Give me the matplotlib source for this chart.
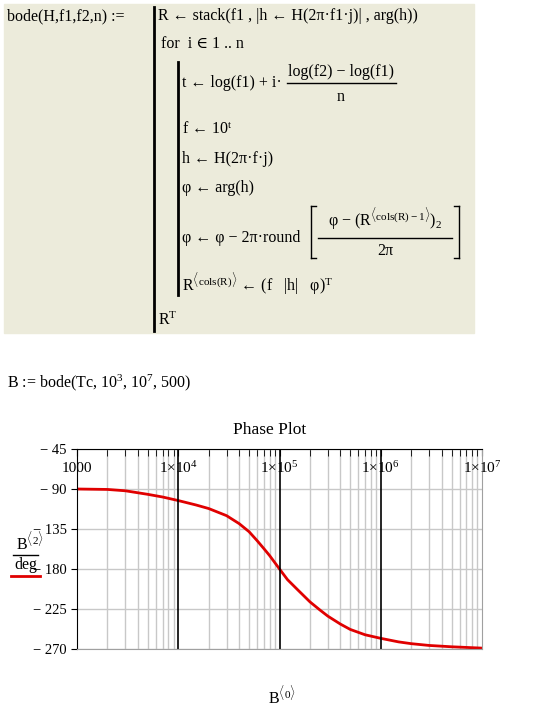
import matplotlib
matplotlib.use("Agg")
import matplotlib.pyplot as plt
import numpy as np
from matplotlib.transforms import blended_transform_factory

plt.rcParams['mathtext.fontset'] = 'custom'
plt.rcParams['mathtext.rm'] = 'Liberation Serif'
plt.rcParams['mathtext.it'] = 'Liberation Serif'
plt.rcParams['font.family'] = ['Liberation Serif', 'DejaVu Serif']

freq = [1e3, 2e3, 3e3, 5e3, 7e3, 1e4, 1.5e4, 2e4, 3e4, 4e4, 5e4, 6e4, 7e4, 8e4, 1e5, 1.2e5, 1.5e5, 2e5,
        2.5e5, 3e5, 4e5, 5e5, 7e5, 1e6, 1.5e6, 2e6, 3e6, 5e6, 1e7]
phase = [-90, -90.5, -92, -96, -99, -103, -108, -112, -120, -129, -138, -148, -157, -165, -180, -192, -203, -217,
         -226, -233, -242, -248, -254, -258, -262, -264, -266, -267.5, -269]
yticks = [-45, -90, -135, -180, -225, -270]
xticks = [1e3, 1e4, 1e5, 1e6, 1e7]
xlabels = ['1000', r'1$\times$10$^{4}$', r'1$\times$10$^{5}$', r'1$\times$10$^{6}$', r'1$\times$10$^{7}$']

W, H = 539, 713
fig = plt.figure(figsize=(W/100, H/100), dpi=100)

def T(x, y, s, size=11.5, **kw):
    fig.text(x/W, 1 - y/H, s, fontsize=size, va='center', **kw)

def L(x0, y0, x1, y1, lw=1, color='black'):
    fig.add_artist(plt.Line2D([x0/W, x1/W], [1-y0/H, 1-y1/H], lw=lw, color=color))

fig.add_artist(plt.Rectangle((4/W, 1-333/H), 470/W, 329/H, color='#ECEBDB', zorder=0))
L(154, 7, 154, 331, lw=2)
L(178, 62, 178, 295, lw=2)
T(7, 16, 'bode(H,f1,f2,n) :=')
T(158, 16, 'R ← stack(f1 , |h ← H(2π·f1·j)| , arg(h))')
T(161, 44, 'for  i ∈ 1 .. n')
T(182, 83, 't ← log(f1) + i·')
T(341, 72, 'log(f2) − log(f1)', ha='center')
L(287, 83, 396, 83)
T(341, 97, 'n', ha='center')
T(182, 130, r'f ← 10$^{\rm t}$')
T(182, 159, 'h ← H(2π·f·j)')
T(182, 188, 'φ ← arg(h)')
T(182, 238, 'φ ← φ − 2π·round')
T(385, 220, r'φ − (R$^{\langle {\rm cols(R)}-1\rangle}$)$_2$', ha='center')
L(318, 238, 452, 238)
T(385, 251, '2π', ha='center')
L(311, 206, 311, 258); L(311, 206, 316, 206); L(311, 258, 316, 258)
L(459, 206, 459, 258); L(454, 206, 459, 206); L(454, 258, 459, 258)
T(182, 285, r'R$^{\langle {\rm cols(R)}\rangle}$ ← (f   |h|   φ)$^{\rm T}$')
T(158, 320, r'R$^{\rm T}$')
T(7, 383, r'B := bode(Tc, 10$^3$, 10$^7$, 500)')

ax = fig.add_axes([77/W, 64/H, 405/W, 200/H])
ax.plot(freq, phase, color='#E00000', lw=2)
ax.set_xscale('log')
ax.set_xlim(1e3, 1e7)
ax.set_ylim(-270, -45)
ax.set_yticks(yticks)
ax.set_yticklabels(['− %d' % abs(v) for v in yticks], fontsize=10.5)
ax.set_xticks(xticks)
ax.set_xticklabels([])
ax.xaxis.set_minor_formatter(matplotlib.ticker.NullFormatter())
ax.grid(which='minor', axis='x', color='#C8C8C8', lw=1)
ax.grid(which='major', axis='y', color='#C8C8C8', lw=1)
for xv in xticks[1:-1]:
    ax.axvline(xv, color='black', lw=1.2)
ax.tick_params(axis='x', which='both', top=True, bottom=False, direction='in', length=5)
ax.tick_params(axis='y', direction='out', length=4)
for s in ax.spines.values():
    s.set_color('#A0A0A0')
ax.spines['left'].set_color('black')
ax.spines['top'].set_color('black')
tr = blended_transform_factory(ax.transData, ax.transAxes)
for xv, lab in zip(xticks, xlabels):
    ax.text(xv, 0.905, lab, transform=tr, ha='center', va='center', fontsize=11)
T(270, 430, 'Phase Plot', size=12.5, ha='center')
T(30, 543, r'B$^{\langle 2\rangle}$', ha='center')
L(13, 555, 38, 555)
T(26, 565, 'deg', ha='center')
L(11, 576, 40, 576, lw=2, color='#E00000')
T(282, 697, r'B$^{\langle 0\rangle}$', ha='center')

fig.savefig('out.png', dpi=100)
